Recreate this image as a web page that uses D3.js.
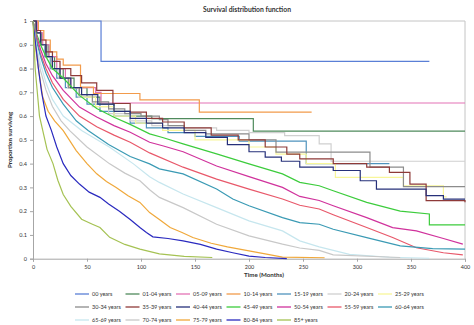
<!DOCTYPE html>
<html>
<head>
<meta charset="utf-8">
<script src="https://cdn.jsdelivr.net/npm/d3@7"></script>
<style>
  body { margin: 0; background: #fff; }
  text { font-family: Lato, "Liberation Sans", sans-serif; fill: #333; }
</style>
</head>
<body>
<div id="chart"></div>
<script>
// survival curves: [months, proportion surviving]
var groups = ["00 years", "01-04 years", "05-09 years", "10-14 years", "15-19 years", "20-24 years", "25-29 years",
              "30-34 years", "35-39 years", "40-44 years", "45-49 years", "50-54 years", "55-59 years", "60-64 years",
              "65-69 years", "70-74 years", "75-79 years", "80-84 years", "85+ years"];

var s00 = [[0,1],[63,0.83],[367,0.83]];
var s01 = [[0,1],[3,0.95],[8,0.9],[14,0.85],[20,0.8],[28,0.76],[38,0.72],[50,0.68],[62,0.65],[75,0.62],[90,0.6],[110,0.589],[204,0.537],[400,0.537]];
var s05 = [[0,1],[4,0.95],[9,0.9],[15,0.85],[22,0.8],[30,0.76],[35,0.72],[58,0.7],[63,0.655],[400,0.655]];
var s10 = [[0,1],[5,0.96],[10,0.92],[16,0.87],[22,0.84],[28,0.814],[44,0.722],[56,0.695],[99,0.668],[154,0.617],[258,0.617]];
var s15 = [[0,1],[3,0.95],[7,0.9],[11,0.85],[16,0.8],[22,0.76],[30,0.72],[40,0.68],[50,0.65],[62,0.62],[75,0.6],[90,0.57],[105,0.55],[125,0.53],[150,0.515],[191,0.495],[253,0.4],[330,0.4]];
var s20 = [[0,1],[3,0.95],[7,0.9],[12,0.85],[17,0.8],[24,0.76],[32,0.72],[42,0.68],[55,0.64],[70,0.61],[90,0.58],[110,0.56],[140,0.55],[170,0.54],[200,0.53],[233,0.518],[265,0.483],[276,0.41],[400,0.41]];
var s25 = [[0,1],[3,0.95],[7,0.9],[12,0.85],[18,0.8],[25,0.76],[34,0.72],[45,0.68],[58,0.64],[75,0.6],[95,0.57],[120,0.54],[150,0.5],[200,0.47],[225,0.44],[253,0.4],[280,0.342],[343,0.307],[380,0.26],[383,0.26]];
var s30 = [[0,1],[3,0.95],[7,0.9],[12,0.85],[18,0.8],[25,0.76],[33,0.72],[43,0.69],[55,0.66],[70,0.63],[85,0.61],[100,0.6],[117,0.585],[125,0.56],[140,0.54],[160,0.525],[200,0.5],[225,0.448],[312,0.385],[343,0.303],[400,0.303]];
var s35 = [[0,1],[3,0.96],[7,0.92],[12,0.87],[18,0.83],[25,0.8],[35,0.77],[45,0.74],[59,0.708],[74,0.653],[90,0.617],[105,0.59],[120,0.575],[140,0.55],[165,0.52],[190,0.5],[215,0.47],[235,0.44],[247,0.42],[278,0.4],[309,0.385],[330,0.363],[349,0.314],[364,0.244],[400,0.237]];
var s40 = [[0,1],[3,0.95],[7,0.9],[12,0.85],[18,0.8],[25,0.76],[35,0.72],[45,0.69],[60,0.65],[75,0.62],[90,0.59],[105,0.57],[120,0.55],[140,0.53],[160,0.51],[180,0.48],[200,0.45],[215,0.427],[230,0.41],[247,0.385],[278,0.371],[303,0.328],[318,0.293],[364,0.265],[380,0.251],[400,0.251]];
var s45 = [[0,1],[3,0.95],[7,0.9],[12,0.85],[18,0.8],[28,0.76],[43,0.687],[59,0.632],[75,0.595],[90,0.565],[108,0.525],[120,0.51],[139,0.483],[170,0.441],[200,0.399],[231,0.357],[247,0.321],[265,0.307],[278,0.286],[309,0.237],[340,0.2],[367,0.188],[367,0.142],[400,0.142]];
var s50 = [[0,1],[3,0.94],[7,0.88],[12,0.82],[18,0.77],[28,0.708],[43,0.638],[59,0.596],[75,0.56],[90,0.532],[108,0.49],[120,0.475],[139,0.45],[170,0.39],[200,0.345],[231,0.3],[247,0.262],[265,0.245],[278,0.223],[309,0.173],[333,0.131],[355,0.117],[380,0.085],[398,0.061]];
var s55 = [[0,1],[3,0.93],[7,0.86],[12,0.8],[18,0.74],[28,0.67],[43,0.6],[59,0.555],[75,0.52],[90,0.49],[108,0.445],[139,0.385],[170,0.335],[200,0.293],[231,0.251],[247,0.225],[265,0.209],[278,0.185],[309,0.131],[333,0.089],[355,0.046],[380,0.025],[398,0.016]];
var s60 = [[0,1],[3,0.92],[7,0.85],[12,0.78],[18,0.72],[28,0.65],[40,0.58],[51,0.539],[70,0.48],[90,0.43],[108,0.399],[117,0.378],[139,0.357],[170,0.293],[185,0.251],[200,0.223],[231,0.173],[247,0.152],[265,0.145],[278,0.124],[309,0.089],[340,0.054],[370,0.042],[400,0.04]];
var s65 = [[0,1],[3,0.9],[7,0.82],[12,0.74],[18,0.67],[28,0.6],[45,0.539],[71,0.469],[93,0.399],[108,0.345],[117,0.321],[139,0.272],[170,0.215],[200,0.159],[231,0.117],[247,0.075],[265,0.05],[293,0.018],[330,0.006],[367,0.002]];
var s70 = [[0,1],[3,0.88],[7,0.79],[12,0.71],[18,0.64],[26,0.58],[34,0.539],[50,0.47],[71,0.399],[85,0.36],[99,0.328],[108,0.29],[117,0.258],[139,0.215],[170,0.145],[200,0.096],[231,0.061],[247,0.045],[265,0.035],[278,0.016],[340,0.005]];
var s75 = [[0,1],[2,0.9],[5,0.8],[9,0.68],[14,0.62],[20,0.58],[28,0.539],[40,0.455],[50,0.4],[59,0.357],[68,0.325],[77,0.3],[88,0.265],[99,0.237],[108,0.194],[117,0.165],[127,0.131],[138,0.11],[148,0.089],[165,0.065],[180,0.05],[200,0.033],[215,0.02],[231,0.007],[270,0.004]];
var s80 = [[0,1],[2.5,0.9],[5,0.8],[8,0.7],[12,0.6],[17,0.54],[22,0.47],[28,0.4],[35,0.35],[43,0.314],[52,0.28],[62,0.258],[70,0.23],[80,0.2],[90,0.165],[99,0.131],[105,0.11],[111,0.092],[125,0.085],[139,0.075],[155,0.06],[170,0.04],[185,0.025],[200,0.011],[215,0.005],[235,0]];
var s85 = [[0,1],[1,0.9],[2,0.8],[4,0.7],[6,0.6],[9,0.54],[13,0.46],[18.5,0.4],[23,0.33],[28,0.27],[35,0.22],[45,0.166],[55,0.145],[62,0.131],[71,0.09],[85,0.06],[99,0.04],[117,0.02],[140,0.01],[166,0.005]];

var curves = [s00, s01, s05, s10, s15, s20, s25, s30, s35, s40, s45, s50, s55, s60, s65, s70, s75, s80, s85];

var colors = ["#5a7fd6", "#4f8a5c", "#e373b5", "#f29b4b", "#4f93bd", "#d0d0d0", "#f8f69a",
              "#8c8c8c", "#8e3a38", "#26307a", "#3ccc3c", "#d0329c", "#e8586a", "#3a9ab4",
              "#c6e6ee", "#c8c8c8", "#f0a83a", "#2a2abf", "#a5c253"];

var yTicks = [0, 0.1, 0.2, 0.3, 0.4, 0.5, 0.6, 0.7, 0.8, 0.9, 1];
var xTicks = [0, 50, 100, 150, 200, 250, 300, 350, 400];

var w = 474, h = 325;
var margin = {top: 21, right: 9, bottom: 67, left: 33};

var svg = d3.select("#chart").append("svg")
    .attr("width", w)
    .attr("height", h);

var x = d3.scaleLinear().domain([0, 400]).range([margin.left, w - margin.right]);
var y = d3.scaleLinear().domain([0, 1]).range([h - margin.bottom + 0.7, margin.top]);

// frame top / right
svg.append("path")
    .attr("d", "M" + x(0) + "," + y(1) + "H" + x(400) + "V" + y(0))
    .attr("fill", "none")
    .attr("stroke", "#c4c4c4")
    .attr("stroke-width", 1);

// axes
var gx = svg.append("g")
    .attr("transform", "translate(0," + y(0) + ")")
    .call(d3.axisBottom(x).tickValues(xTicks).tickSize(3).tickPadding(3));
var gy = svg.append("g")
    .attr("transform", "translate(" + x(0) + ",0)")
    .call(d3.axisLeft(y).tickValues(yTicks).tickSize(3).tickPadding(3).tickFormat(d3.format("")));

[gx, gy].forEach(function(g) {
    g.select(".domain").attr("stroke", "#a6a6a6");
    g.selectAll(".tick line").attr("stroke", "#a6a6a6");
    g.selectAll(".tick text").style("font-size", "5.5px").attr("fill", "#444")
        .style("font-family", "Lato, 'Liberation Sans', sans-serif");
});

// curves
var stepLine = d3.line()
    .x(function(d) { return x(d[0]); })
    .y(function(d) { return y(d[1]); })
    .curve(d3.curveStepAfter);
var smoothLine = d3.line()
    .x(function(d) { return x(d[0]); })
    .y(function(d) { return y(d[1]); });

curves.forEach(function(c, i) {
    svg.append("path")
        .datum(c)
        .attr("fill", "none")
        .attr("stroke", colors[i])
        .attr("stroke-width", 1.2)
        .attr("d", i < 10 ? stepLine : smoothLine);
});

// titles
svg.append("text")
    .attr("x", 247).attr("y", 12)
    .attr("text-anchor", "middle")
    .style("font-size", "6.8px")
    .style("font-weight", "bold")
    .text("Survival distribution function");

svg.append("text")
    .attr("x", 264).attr("y", 277)
    .attr("text-anchor", "middle")
    .style("font-size", "6.2px")
    .style("font-weight", "bold")
    .text("Time (Months)");

svg.append("text")
    .attr("transform", "translate(12," + ((y(0) + y(1)) / 2) + ") rotate(-90)")
    .attr("text-anchor", "middle")
    .style("font-size", "6.2px")
    .style("font-weight", "bold")
    .text("Proportion surviving");

// legend, 7 per row
var legend = svg.append("g");
groups.forEach(function(g, i) {
    var col = i % 7, row = Math.floor(i / 7);
    var lx = 75 + col * 50.5, ly = 294 + row * 13;
    legend.append("line")
        .attr("x1", lx).attr("x2", lx + 14)
        .attr("y1", ly).attr("y2", ly)
        .attr("stroke", colors[i])
        .attr("stroke-width", 1.3);
    legend.append("text")
        .attr("x", lx + 17).attr("y", ly)
        .attr("dy", "0.35em")
        .style("font-size", "5.5px")
        .text(g);
});
</script>
</body>
</html>
